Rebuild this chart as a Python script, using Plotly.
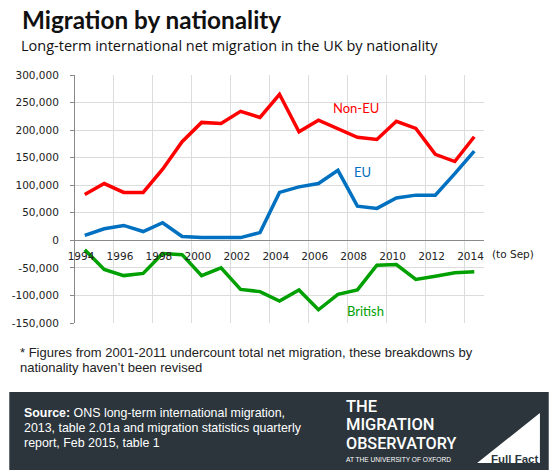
import plotly.graph_objects as go

years = list(range(1994, 2015))
non_eu = [83000, 103000, 87000, 87000, 129000, 179000, 214000, 212000, 234000, 223000, 265000,
          197000, 218000, 203000, 187000, 183000, 216000, 203000, 156000, 143000, 188000]
eu = [9000, 21000, 27000, 16000, 32000, 7000, 5000, 5000, 5000, 14000, 87000,
      97000, 103000, 127000, 62000, 58000, 77000, 82000, 82000, 121000, 162000]
british = [-17000, -53000, -64000, -60000, -24000, -26000, -64000, -50000, -89000, -93000, -110000,
           -90000, -126000, -98000, -90000, -45000, -44000, -71000, -65000, -59000, -57000]

x_tick_vals = list(range(1994, 2015, 2))
x_tick_text = [str(v) for v in x_tick_vals]
y_tick_vals = [-150000, -100000, -50000, 0, 50000, 100000, 150000, 200000, 250000, 300000]
y_tick_text = ["-150,000", "-100,000", "-50,000", "0", "50,000", "100,000", "150,000",
               "200,000", "250,000", "300,000"]

W, H = 550, 470
ML, MR, MT, MB = 67, 66, 75, 147
PW, PH = W - ML - MR, H - MT - MB


def px(x):
    return (x - ML) / PW


def py(y):
    return (H - MB - y) / PH


xs = [y + 0.5 for y in years]

fig = go.Figure()
fig.add_trace(go.Scatter(x=xs, y=non_eu, mode="lines", line=dict(color="#ff0000", width=3.5), name="Non-EU"))
fig.add_trace(go.Scatter(x=xs, y=eu, mode="lines", line=dict(color="#0070c0", width=3.5), name="EU"))
fig.add_trace(go.Scatter(x=xs, y=british, mode="lines", line=dict(color="#00a000", width=3.5), name="British"))

fig.update_layout(
    width=W, height=H,
    margin=dict(l=ML, r=MR, t=MT, b=MB),
    paper_bgcolor="white", plot_bgcolor="white",
    showlegend=False,
    font=dict(family="DejaVu Sans", size=10.5, color="#333333"),
    xaxis=dict(
        range=[1994, 2015], tickvals=x_tick_vals, ticktext=x_tick_text,
        showgrid=True, gridcolor="#dcdcdc", gridwidth=1,
        showline=True, linecolor="#8a8a8a", linewidth=1,
        anchor="free", position=1/3, ticks="", zeroline=False,
        ticklabelshift=6, ticklabelstandoff=6,
        tickfont=dict(family="DejaVu Sans", size=10.5, color="#222222"),
    ),
    yaxis=dict(
        range=[-150000, 300000], tickvals=y_tick_vals, ticktext=y_tick_text,
        showgrid=True, gridcolor="#dcdcdc", gridwidth=1,
        showline=True, linecolor="#8a8a8a", linewidth=1,
        ticks="outside", ticklen=4, tickcolor="#8a8a8a",
        zeroline=False, ticklabelstandoff=9,
        tickfont=dict(family="DejaVu Sans", size=10.5, color="#222222"),
    ),
)

ann = []


def text(x, y, s, size, color, family, xanchor="left", yanchor="middle", weight=None):
    f = dict(size=size, color=color, family=family)
    if weight:
        f["weight"] = weight
    ann.append(dict(x=px(x), y=py(y), xref="paper", yref="paper", text=s, showarrow=False,
                    xanchor=xanchor, yanchor=yanchor, align="left", font=f))


# title / subtitle
text(10.5, 19.5, "<b>Migration by nationality</b>", 24.3, "#111111", "Lato")
text(9.5, 45.6, "Long-term international net migration in the UK by nationality", 14.5, "#111111", "Open Sans")

# series labels
text(354, 108, "Non-EU", 13, "#ff0000", "Lato", xanchor="center")
text(360, 172, "EU", 13, "#0070c0", "Lato", xanchor="center")
text(363, 311, "British", 13, "#00a000", "Lato", xanchor="center")

# (to Sep)
text(490, 254, "(to Sep)", 10.5, "#222222", "DejaVu Sans")

# footnote
text(8.5, 352.5, "* Figures from 2001-2011 undercount total net migration, these breakdowns by", 13, "#222222", "Liberation Sans")
text(8.5, 367.5, "nationality haven\u2019t been revised", 13, "#222222", "Liberation Sans")

# footer band
fig.add_shape(type="rect", xref="paper", yref="paper", x0=px(0), x1=px(W), y0=py(H), y1=py(392),
              fillcolor="#2b353b", line=dict(width=0), layer="above")

text(12.5, 412.5, "<b>Source:</b> ONS long-term international migration,", 12.4, "#ffffff", "Liberation Sans")
text(12.5, 427.5, "2013, table 2.01a and migration statistics quarterly", 12.4, "#ffffff", "Liberation Sans")
text(12.5, 442.5, "report, Feb 2015, table 1", 12.4, "#ffffff", "Liberation Sans")

text(341, 406.5, "THE", 16.5, "#ffffff", "Roboto", weight=500)
text(341, 424.5, "MIGRATION", 16.5, "#ffffff", "Roboto", weight=500)
text(341, 443, "OBSERVATORY", 16.2, "#ffffff", "Roboto", weight=500)
text(341, 459.5, "AT THE UNIVERSITY OF OXFORD", 6.6, "#ffffff", "Liberation Sans")

fig.add_shape(type="path", xref="paper", yref="paper",
              path=f"M {px(477)},{py(463)} L {px(541)},{py(463)} L {px(541)},{py(413)} Z",
              fillcolor="#ffffff", line=dict(width=0), layer="above")
text(541, 458.5, "<b>Full Fact</b>", 11.5, "#2b353b", "Liberation Sans", xanchor="right")

fig.update_layout(annotations=ann)
fig.write_html("out.html", config={"displayModeBar": False})
